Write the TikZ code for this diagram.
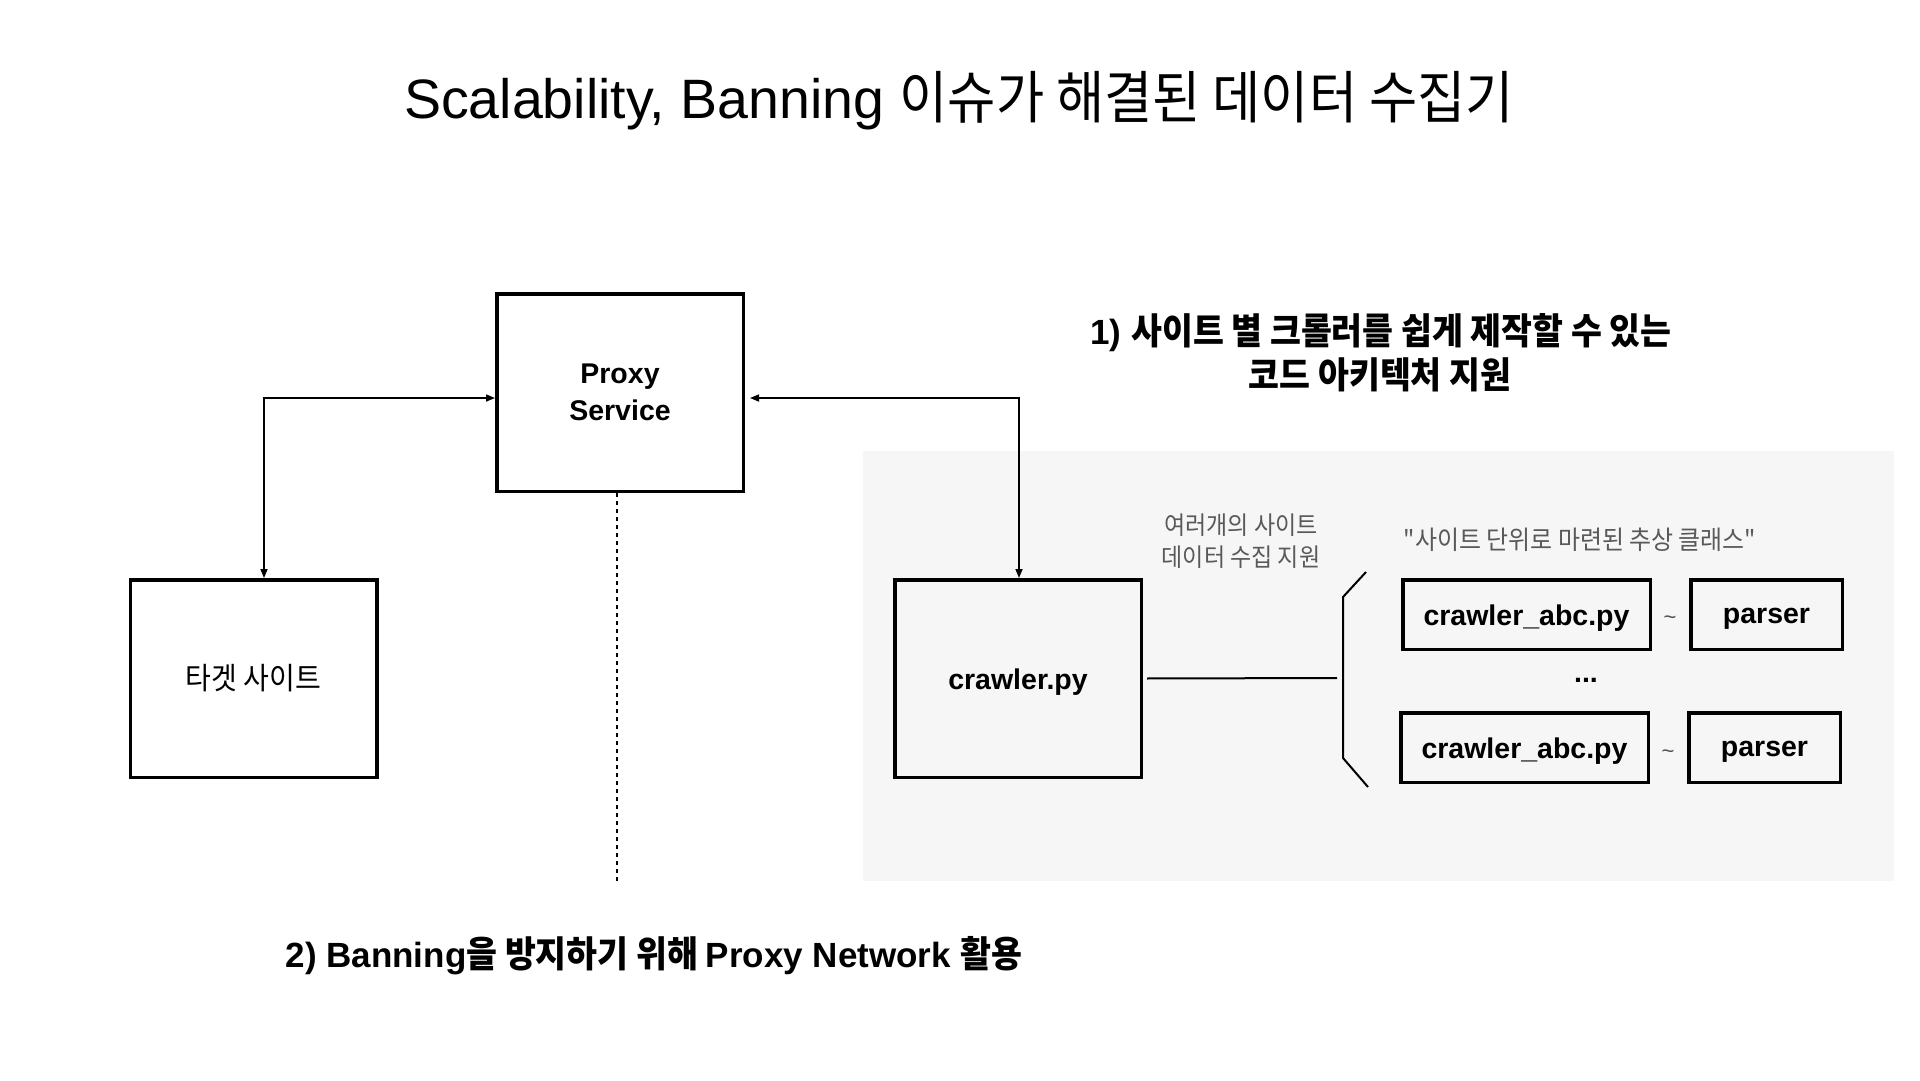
\documentclass[tikz,border=0pt]{standalone}
\usepackage{fontspec}
\setmainfont{Liberation Sans}
\newfontfamily\kr[FakeStretch=0.92]{Noto Sans CJK KR}
\usetikzlibrary{arrows.meta}
\definecolor{panel}{HTML}{F6F6F6}
\definecolor{note}{HTML}{595959}
\definecolor{tildec}{HTML}{505050}
\newcommand{\hk}[2]{{\fontsize{#1}{#1}\selectfont\kr #2}}
\newcommand{\low}[1]{\raisebox{-4pt}[\height][\depth]{#1}}
\begin{document}
\begin{tikzpicture}[x=1pt,y=-1pt,
  bigbox/.style={draw=black, line width=3.5pt, minimum width=246.5pt, minimum height=197.5pt, inner sep=0pt, align=center, font=\bfseries\fontsize{28.5}{37}\selectfont},
  smallbox/.style={draw=black, line width=3.5pt, minimum height=69.5pt, inner sep=0pt, font=\bfseries\fontsize{28.5}{34}\selectfont},
  link/.style={line width=1.6pt, {Triangle[length=9pt,width=7pt]}-{Triangle[length=9pt,width=7pt]}},
  plainline/.style={line width=2pt},
  dotline/.style={line width=2.3pt, dash pattern=on 4pt off 4pt},
  headline/.style={anchor=base, font=\bfseries\fontsize{35}{40}\selectfont},
  notetext/.style={text=note, align=center, font=\kr\fontsize{25}{32}\selectfont},
  tildetext/.style={text=tildec, font=\fontsize{22}{24}\selectfont},
]
\fill[white] (0,0) rectangle (1920,1080);
\useasboundingbox (0,0) rectangle (1920,1080);
% panel
\fill[panel] (863,451) rectangle (1894,881);

% title
\node[anchor=base] (title) at (959,118) {\fontsize{55.5}{60}\selectfont Scalability, Banning \hk{57}{이슈가 해결된 데이터 수집기}};

% main boxes
\node[bigbox] (proxy) at (620,392.5) {Proxy\\Service};
\node[bigbox] (target) at (253.5,678.5) {\hk{30.5}{\mdseries 타겟 사이트}};
\node[bigbox] (crawler) at (1018,678.5) {\low{crawler.py}};

% connectors
\coordinate (a1) at (264,398);
\draw[link] (target.north -| a1) -- (a1) -- (a1 -| proxy.west);
\coordinate (a2) at (1019,398);
\draw[link, shorten >=5pt] (crawler.north -| a2) -- (a2) -- (a2 -| proxy.east);
\coordinate (dotend) at (617,882);
\draw[dotline] (proxy.south -| dotend) -- (dotend);

% headlines
\node[headline] (h1a) at (1381,344) {1) \hk{36.5}{사이트 별 크롤러를 쉽게 제작할 수 있는}};
\node[headline] (h1b) at (1380,388) {\hk{36.5}{코드 아키텍처 지원}};
\node[headline] (h2) at (654,967) {2) Banning\hk{36.5}{을 방지하기 위해 }Proxy Network \hk{36.5}{활용}};

% notes
\node[notetext] (note1) at (1241,541) {여러개의 사이트\\데이터 수집 지원};
\node[notetext, font=\kr\fontsize{26}{32}\selectfont] (note2) at (1580,540) {"사이트 단위로 마련된 추상 클래스"};

% bracket
\draw[plainline] (1366,572) -- (1343,597) -- (1343,758) -- (1368,787);
\coordinate (bmid) at (1337,678);
\draw[plainline, shorten <=4pt] (crawler.east) -- (bmid);

% small boxes
\node[smallbox, minimum width=247.5pt] (abc1) at (1526.5,614.5) {\low{crawler\_abc.py}};
\node[smallbox, minimum width=151.5pt] (par1) at (1766.5,614.5) {\low{parser}};
\node[smallbox, minimum width=247.5pt] (abc2) at (1524.5,747.5) {\low{crawler\_abc.py}};
\node[smallbox, minimum width=151.5pt] (par2) at (1764.5,747.5) {\low{parser}};
\node[tildetext] (tl1) at (1670,620) {\textasciitilde};
\node[tildetext] (tl2) at (1668,754) {\textasciitilde};
\node[font=\bfseries\fontsize{28.5}{34}\selectfont] (dots) at (1586,680) {...};
\end{tikzpicture}
\end{document}
